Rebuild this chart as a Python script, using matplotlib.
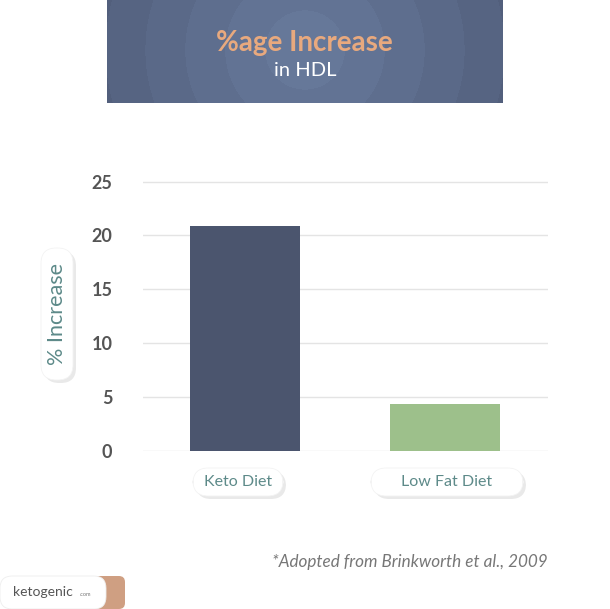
import matplotlib
matplotlib.use("Agg")
import matplotlib.pyplot as plt
import numpy as np
from matplotlib.patches import FancyBboxPatch

# data
categories = ["Keto Diet", "Low Fat Diet"]
values = [20.9, 4.4]
bar_colors = ["#4b556e", "#9dc08b"]
yticks = [0, 5, 10, 15, 20, 25]

plt.rcParams['font.family'] = ['Lato', 'DejaVu Sans']

W, H = 610, 609
fig = plt.figure(figsize=(W / 100, H / 100), dpi=100)
fig.patch.set_facecolor("white")


def fx(px):
    return px / W


def fy(py):
    return 1 - py / H


# banner with concentric rings
bax = fig.add_axes([fx(107), fy(103), fx(503) - fx(107), 103 / H])
xx, yy = np.meshgrid(np.linspace(0, 396, 396), np.linspace(0, 103, 103))
r = np.hypot(xx - 198, yy - 50)
ring = np.floor(r / 40).clip(0, 6)
shade = 1 - ring / 6
c_out = np.array([0x4e, 0x5a, 0x77]) / 255
c_in = np.array([0x67, 0x79, 0x9a]) / 255
img = c_out[None, None, :] + (c_in - c_out)[None, None, :] * shade[..., None]
bax.imshow(img, aspect="auto", extent=[0, 1, 0, 1])
bax.set_axis_off()
fig.text(fx(304), fy(43), "%age Increase", color="#e8a97e", fontsize=20,
         fontweight="bold", ha="center", va="center")
fig.text(fx(305), fy(70), "in HDL", color="white", fontsize=14.5,
         ha="center", va="center")

# main chart
ax = fig.add_axes([fx(143), fy(451), fx(548) - fx(143), (451 - 181) / H])
x = np.arange(len(categories))
ax.bar(x, values, width=0.55, color=bar_colors, zorder=3)
ax.set_xlim(-0.51, 1.515)
ax.set_yticks(yticks)
ax.set_yticklabels([str(t) for t in yticks], fontsize=13, fontweight="bold",
                   color="#555555")
ax.tick_params(axis="y", length=0, pad=22)
ax.set_xticks([])
ax.grid(axis="y", color="#e4e4e4", linewidth=1, zorder=0)
for s in ["top", "right", "left", "bottom"]:
    ax.spines[s].set_visible(False)
ax.set_facecolor("none")
ax.set_ylim(0, 25.05)


def pill(cx, cy, w, h, text, rot=0, fs=11):
    # shadow then white box
    sh = FancyBboxPatch((fx(cx - w / 2 + 3), fy(cy + h / 2 + 3)), w / W, h / H,
                        boxstyle="round,pad=0,rounding_size=0.025",
                        transform=fig.transFigure, facecolor="#e9e9e9",
                        edgecolor="none", zorder=1)
    bx = FancyBboxPatch((fx(cx - w / 2), fy(cy + h / 2)), w / W, h / H,
                        boxstyle="round,pad=0,rounding_size=0.025",
                        transform=fig.transFigure, facecolor="white",
                        edgecolor="#f3f3f3", linewidth=0.6, zorder=2)
    fig.patches.extend([sh, bx])
    fig.text(fx(cx), fy(cy), text, rotation=rot, ha="center", va="center",
             color="#5d8a89", fontsize=fs, zorder=3)


pill(57, 314, 32, 132, "% Increase", rot=90, fs=15.5)
pill(238, 482, 90, 28, categories[0], fs=11.5)
pill(447, 482, 152, 28, categories[1], fs=11.5)

fig.text(fx(548), fy(562), "*Adopted from Brinkworth et al., 2009",
         ha="right", va="center", color="#777777", fontsize=12.3, style="italic")

# logo corner
fig.patches.append(FancyBboxPatch((fx(94), 0), 31 / W, 33 / H,
                                  boxstyle="round,pad=0,rounding_size=0.01",
                                  transform=fig.transFigure,
                                  facecolor="#cf9f82", edgecolor="none"))
fig.patches.append(FancyBboxPatch((0, 0), 106 / W, 33 / H,
                                  boxstyle="round,pad=0,rounding_size=0.02",
                                  transform=fig.transFigure,
                                  facecolor="white", edgecolor="#eeeeee",
                                  linewidth=0.6))
fig.text(fx(13), fy(592), "ketogenic", color="#555555", fontsize=10,
         ha="left", va="center")
fig.text(fx(80), fy(595), ".com", color="#777777", fontsize=4,
         ha="left", va="center")

fig.savefig("out.png", dpi=100, facecolor="white")
